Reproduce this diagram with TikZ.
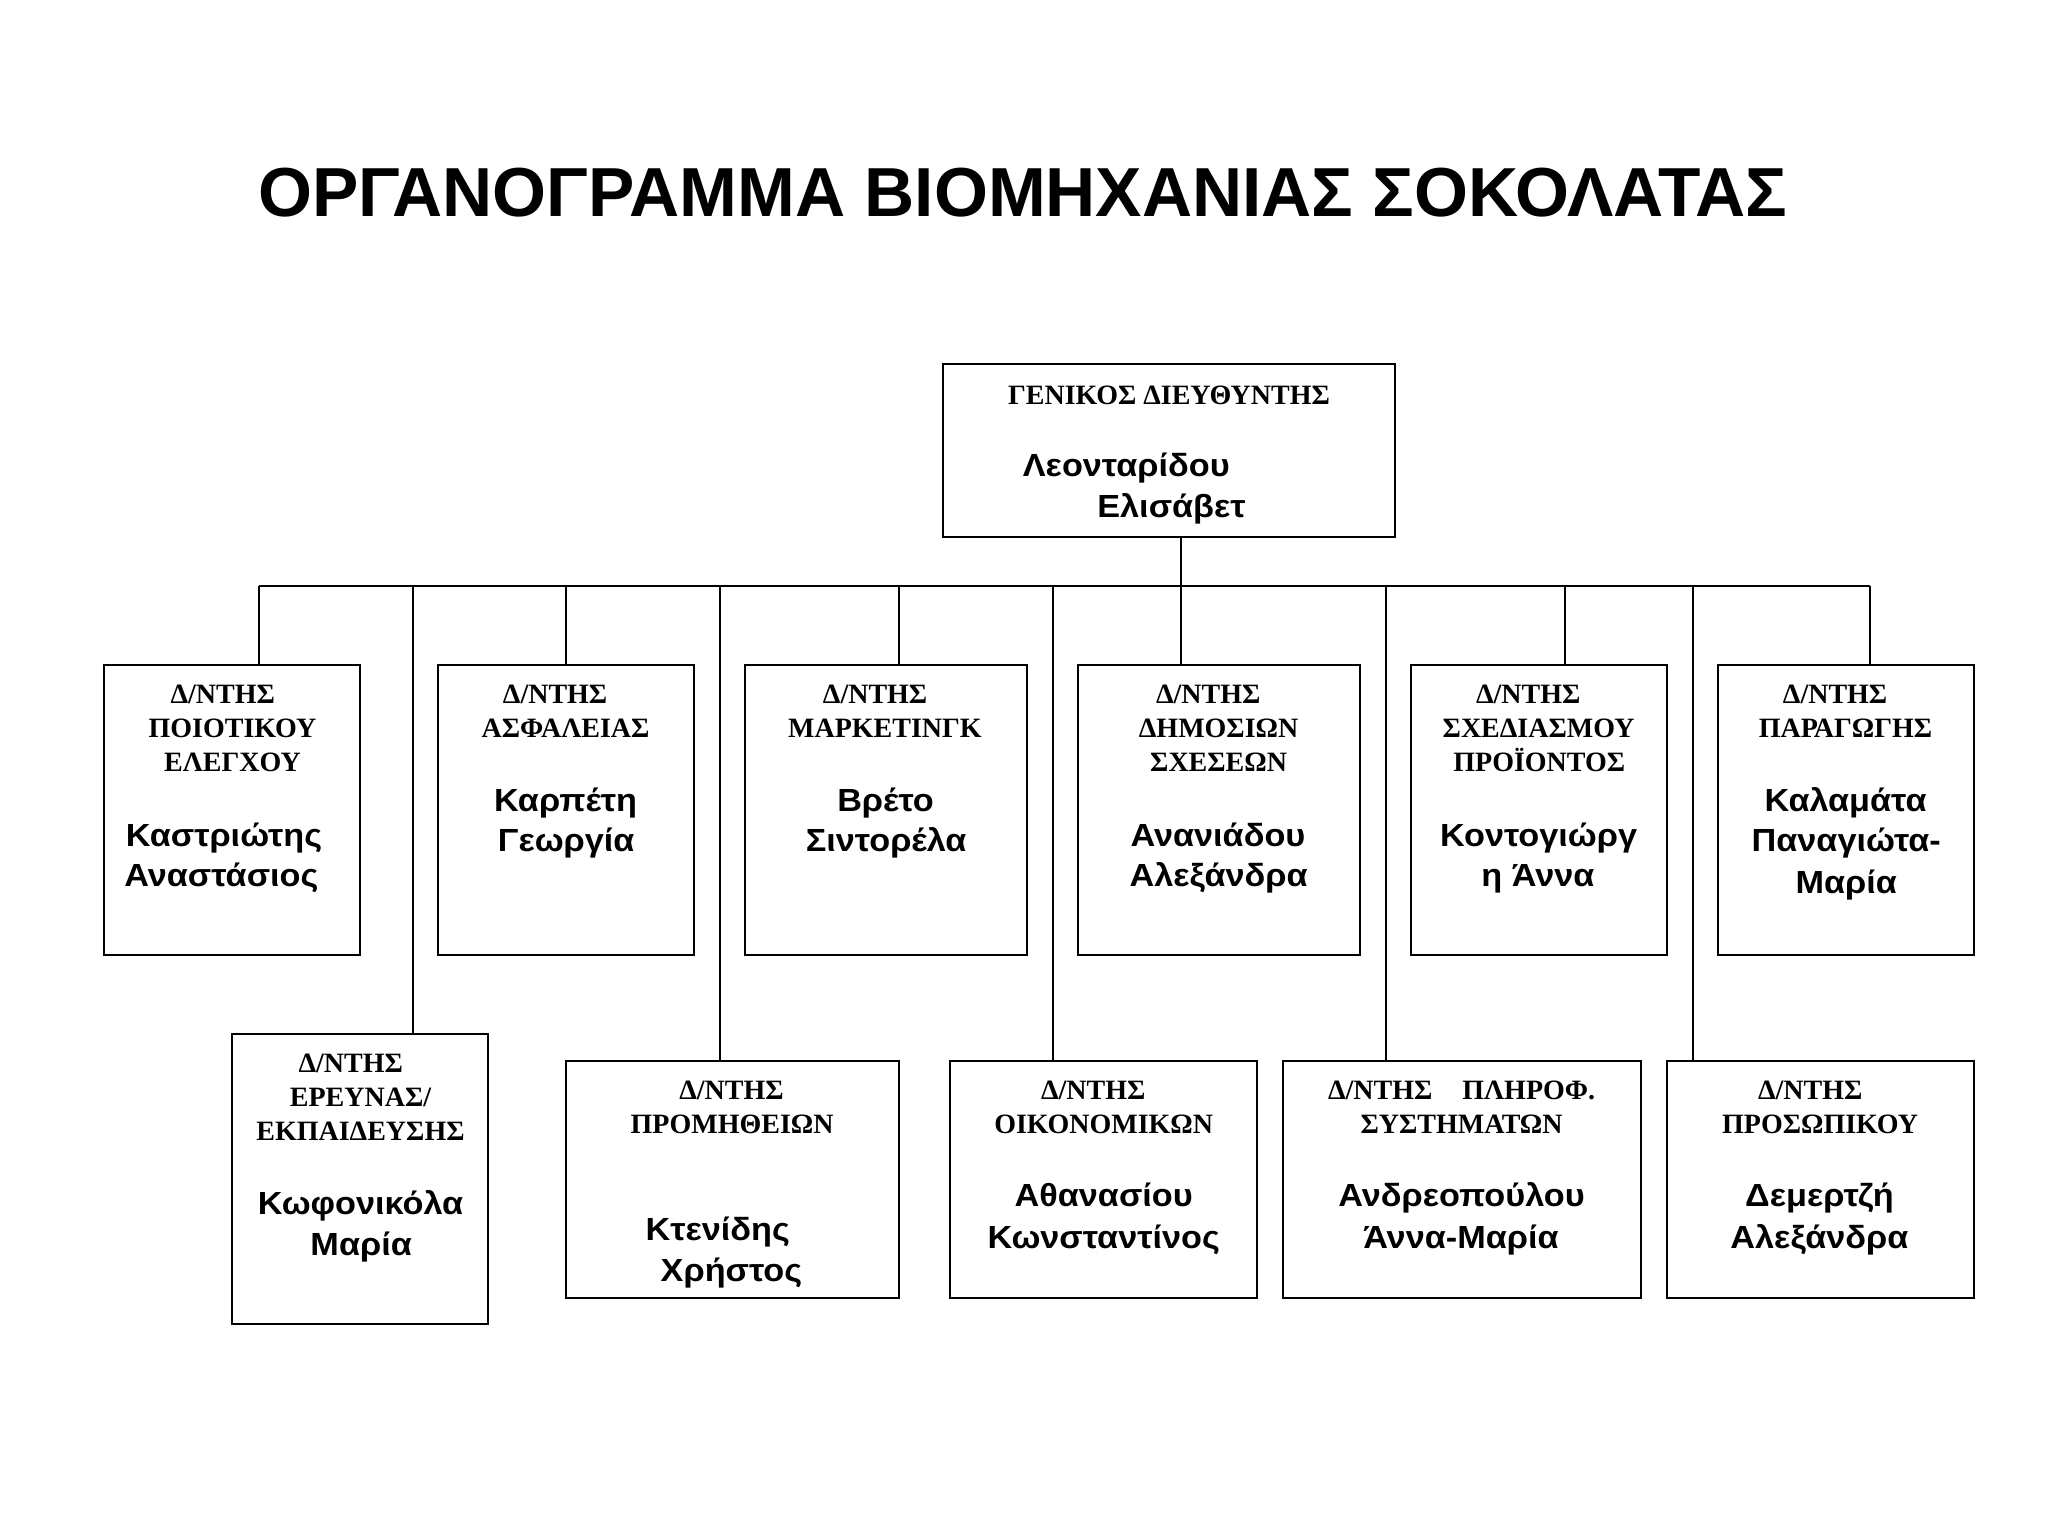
\documentclass[tikz,border=0pt]{standalone}
\usepackage{fontspec}
\setmainfont{Liberation Serif}
\newfontfamily\hfont{Liberation Serif}
\newfontfamily\nfont{Liberation Sans}[FakeStretch=1.07]
\newfontfamily\tfont{Liberation Sans}
\usetikzlibrary{fit}
\tikzset{
  hd/.style={font=\hfont\bfseries\fontsize{28}{28}\selectfont, anchor=base, inner sep=0pt},
  nm/.style={font=\nfont\bfseries\fontsize{32}{32}\selectfont, anchor=base, inner sep=0pt},
  ttl/.style={font=\tfont\bfseries\fontsize{69.4}{70}\selectfont, anchor=base, inner sep=0pt},
  box/.style={draw, line width=2pt, inner sep=0pt},
  conn/.style={line width=2pt}
}
\newcommand\hdl[4]{\node[hd] (#1) at (#2,#3) {#4};}
\newcommand\nml[4]{\node[nm] (#1) at (#2,#3) {#4};}
\begin{document}
\begin{tikzpicture}[x=1.3061pt,y=-1.3061pt]
\useasboundingbox[fill=white] (0,0) rectangle (1568,1176);
\node[ttl] (title) at (783,165.5) {ΟΡΓΑΝΟΓΡΑΜΜΑ ΒΙΟΜΗΧΑΝΙΑΣ ΣΟΚΟΛΑΤΑΣ};
% top box
\node[box, fit={(722,279) (1068,411)}] (gm) {};
\hdl{gmh}{895}{309.5}{ΓΕΝΙΚΟΣ ΔΙΕΥΘΥΝΤΗΣ}
\node[nm, anchor=base west] (gmn1) at (783,365) {Λεονταρίδου};
\node[nm, anchor=base west] (gmn2) at (840,396) {Ελισάβετ};
% level 1
\node[box, fit={(80,509) (276,731)}] (b1) {};
\hdl{b1h1}{170.5}{538.5}{Δ/ΝΤΗΣ}
\hdl{b1h2}{178}{564.5}{ΠΟΙΟΤΙΚΟΥ}
\hdl{b1h3}{178}{590.5}{ΕΛΕΓΧΟΥ}
\nml{b1n1}{171.5}{648}{Καστριώτης}
\nml{b1n2}{169.5}{679}{Αναστάσιος}
\node[box, fit={(335,509) (531,731)}] (b2) {};
\hdl{b2h1}{425}{538.5}{Δ/ΝΤΗΣ}
\hdl{b2h2}{433}{564.5}{ΑΣΦΑΛΕΙΑΣ}
\nml{b2n1}{433}{621}{Καρπέτη}
\nml{b2n2}{433.5}{652}{Γεωργία}
\node[box, fit={(570,509) (786,731)}] (b3) {};
\hdl{b3h1}{670}{538.5}{Δ/ΝΤΗΣ}
\hdl{b3h2}{677.5}{564.5}{ΜΑΡΚΕΤΙΝΓΚ}
\nml{b3n1}{678}{621}{Βρέτο}
\nml{b3n2}{678.5}{652}{Σιντορέλα}
\node[box, fit={(825,509) (1041,731)}] (b4) {};
\hdl{b4h1}{925}{538.5}{Δ/ΝΤΗΣ}
\hdl{b4h2}{933}{564.5}{ΔΗΜΟΣΙΩΝ}
\hdl{b4h3}{933}{590.5}{ΣΧΕΣΕΩΝ}
\nml{b4n1}{932.5}{648}{Ανανιάδου}
\nml{b4n2}{933}{679}{Αλεξάνδρα}
\node[box, fit={(1080,509) (1276,731)}] (b5) {};
\hdl{b5h1}{1170}{538.5}{Δ/ΝΤΗΣ}
\hdl{b5h2}{1178}{564.5}{ΣΧΕΔΙΑΣΜΟΥ}
\hdl{b5h3}{1178.5}{590.5}{ΠΡΟΪΟΝΤΟΣ}
\nml{b5n1}{1178}{648}{Κοντογιώργ}
\nml{b5n2}{1177.5}{679}{η Άννα}
\node[box, fit={(1315,509) (1511,731)}] (b6) {};
\hdl{b6h1}{1405}{538.5}{Δ/ΝΤΗΣ}
\hdl{b6h2}{1413}{564.5}{ΠΑΡΑΓΩΓΗΣ}
\nml{b6n1}{1413}{621}{Καλαμάτα}
\nml{b6n2}{1413.5}{652}{Παναγιώτα-}
\nml{b6n3}{1413.5}{684}{Μαρία}
% level 2
\node[box, fit={(178,792) (374,1014)}] (c1) {};
\hdl{c1h1}{268.5}{821.5}{Δ/ΝΤΗΣ}
\hdl{c1h2}{276}{847.5}{ΕΡΕΥΝΑΣ/}
\hdl{c1h3}{276}{873.5}{ΕΚΠΑΙΔΕΥΣΗΣ}
\nml{c1n1}{276}{930}{Κωφονικόλα}
\nml{c1n2}{276.5}{961}{Μαρία}
\node[box, fit={(433,812) (688,994)}] (c2) {};
\hdl{c2h1}{560}{841.5}{Δ/ΝΤΗΣ}
\hdl{c2h2}{560.5}{867.5}{ΠΡΟΜΗΘΕΙΩΝ}
\nml{c2n1}{549.5}{950}{Κτενίδης}
\nml{c2n2}{560}{981}{Χρήστος}
\node[box, fit={(727,812) (962,994)}] (c3) {};
\hdl{c3h1}{837}{841.5}{Δ/ΝΤΗΣ}
\hdl{c3h2}{845}{867.5}{ΟΙΚΟΝΟΜΙΚΩΝ}
\nml{c3n1}{845}{924}{Αθανασίου}
\nml{c3n2}{845}{956}{Κωνσταντίνος}
\node[box, fit={(982,812) (1256,994)}] (c4) {};
\hdl{c4h1}{1119}{841.5}{Δ/ΝΤΗΣ\hspace{30pt}ΠΛΗΡΟΦ.}
\hdl{c4h2}{1119}{867.5}{ΣΥΣΤΗΜΑΤΩΝ}
\nml{c4n1}{1119}{924}{Ανδρεοπούλου}
\nml{c4n2}{1118.5}{956}{Άννα-Μαρία}
\node[box, fit={(1276,812) (1511,994)}] (c5) {};
\hdl{c5h1}{1386}{841.5}{Δ/ΝΤΗΣ}
\hdl{c5h2}{1393.5}{867.5}{ΠΡΟΣΩΠΙΚΟΥ}
\nml{c5n1}{1393}{924}{Δεμερτζή}
\nml{c5n2}{1393}{956}{Αλεξάνδρα}
% connectors
\coordinate (j1) at (198,449);
\coordinate (j2) at (433,449);
\coordinate (j3) at (688,449);
\coordinate (j4) at (904,449);
\coordinate (j5) at (1198,449);
\coordinate (j6) at (1432,449);
\coordinate (k1) at (316,449);
\coordinate (k2) at (551,449);
\coordinate (k3) at (806,449);
\coordinate (k4) at (1061,449);
\coordinate (k5) at (1296,449);
\draw[conn] (j1) -- (j6);
\draw[conn] (j4 |- gm.south) -- (j4);
\foreach \j/\b in {j1/b1,j2/b2,j3/b3,j4/b4,j5/b5,j6/b6}
  \draw[conn] (\j) -- (\j |- \b.north);
\foreach \k/\c in {k1/c1,k2/c2,k3/c3,k4/c4,k5/c5}
  \draw[conn] (\k) -- (\k |- \c.north);
\end{tikzpicture}
\end{document}
